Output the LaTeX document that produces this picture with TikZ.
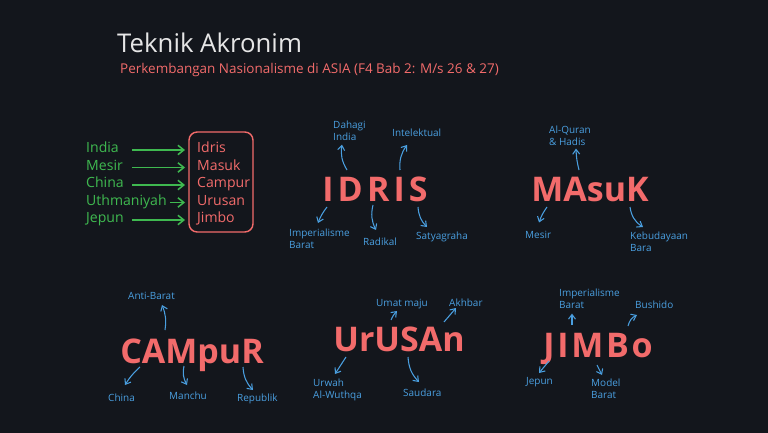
\documentclass[tikz,border=0pt]{standalone}
\usepackage{fontspec}
\setmainfont{Open Sans}
\newfontfamily\acrofont{Open Sans}
\usepackage{tikz}
\usetikzlibrary{arrows.meta}
\definecolor{bgdark}{HTML}{13161C}
\definecolor{titlegray}{HTML}{E6E6E6}
\definecolor{acrored}{HTML}{F26B6B}
\definecolor{noteblue}{HTML}{4A9FE0}
\definecolor{countrygreen}{HTML}{3FB950}

\begin{document}
\begin{tikzpicture}[x=0.03cm, y=-0.03cm,
	title/.style={font={\fontsize{22}{26}\selectfont}, text=titlegray, inner sep=0, anchor=base west},
	subtitle/.style={font={\fontsize{11.5}{14}\selectfont}, text=acrored, inner sep=0, anchor=base west},
	item/.style={font={\fontsize{12}{14}\selectfont}, text=acrored, inner sep=0, anchor=base west},
	country/.style={font={\fontsize{12}{14}\selectfont}, text=countrygreen, inner sep=0, anchor=base west},
	acro/.style={font={\acrofont\bfseries\fontsize{29}{34}\selectfont}, text=acrored, inner sep=0, anchor=base},
	note/.style={font={\fontsize{8.5}{9.8}\selectfont}, text=noteblue, inner sep=0, align=left},
	garr/.style={draw=countrygreen, line width=1.3pt, -{Straight Barb[length=5pt,width=8pt]}},
	barr/.style={draw=noteblue, line width=0.9pt, -{Straight Barb[length=4pt,width=6pt]}}
]
\fill[bgdark] (0,0) rectangle (768,433);
\useasboundingbox (0,0) rectangle (768,433);

\node[title] (title) at (117,53) {Teknik Akronim};
\node[subtitle] (subtitle) at (120,74) {Perkembangan Nasionalisme di ASIA (F4 Bab 2: M/s 26 \& 27)};

\node[draw=acrored, line width=1.2pt, rounded corners=7pt, minimum width=1.92cm, minimum height=3cm] (box) at (221,182) {};
\node[item] (itemidris)  at (197,153) {Idris};
\node[item] (itemmasuk)  at (197,170.5) {Masuk};
\node[item] (itemcampur) at (197,188) {Campur};
\node[item] (itemurusan) at (197,205.5) {Urusan};
\node[item] (itemjimbo)  at (197,223) {Jimbo};

\node[country] (india)      at (86,153) {India};
\node[country] (mesir)      at (86,170.5) {Mesir};
\node[country] (china)      at (86,188) {China};
\node[country] (uthmaniyah) at (86,205.5) {Uthmaniyah};
\node[country] (jepun)      at (86,223) {Jepun};
\draw[garr] ([shift={(46,-3)}]india.base west) -- ([shift={(-12,-3)}]itemidris.base west);
\draw[garr] ([shift={(46,-3)}]mesir.base west) -- ([shift={(-12,-3)}]itemmasuk.base west);
\draw[garr] ([shift={(46,-3)}]china.base west) -- ([shift={(-12,-3)}]itemcampur.base west);
\draw[garr] ([shift={(3,-3)}]uthmaniyah.base east) -- ([shift={(-12,-3)}]itemurusan.base west);
\draw[garr] ([shift={(46,-3)}]jepun.base west) -- ([shift={(-12,-3)}]itemjimbo.base west);

\node[acro] (idris) at (375,202) {\addfontfeature{LetterSpace=12}IDRIS};
\node[note, anchor=north west] (dahagi) at (333,121) {Dahagi\\India};
\node[note, anchor=base west] (intelektual) at (392,137) {Intelektual};
\node[note, anchor=north west] (imperialisme) at (289,229) {Imperialisme\\Barat};
\node[note, anchor=base west] (radikal) at (363,246) {Radikal};
\node[note, anchor=base west] (satyagraha) at (416,240) {Satyagraha};
\draw[barr] ([shift={(-28,-32)}]idris.base) to[bend left=20] ([shift={(9,4)}]dahagi.south west);
\draw[barr] ([shift={(25,-32)}]idris.base) to[bend left=20] ([shift={(15,8)}]intelektual.base west);
\draw[barr] ([shift={(-48,5)}]idris.base) to[bend right=8] ([shift={(29,-6)}]imperialisme.north west);
\draw[barr] ([shift={(-2,3)}]idris.base) to[bend right=20] ([shift={(13,-16)}]radikal.base west);
\draw[barr] ([shift={(43,5)}]idris.base) to[bend right=20] ([shift={(11,-13)}]satyagraha.base west);

\node[acro] (masuk) at (590,202) {MAsuK};
\node[note, anchor=north west] (alquran) at (549,126) {Al-Quran\\\& Hadis};
\node[note, anchor=base west] (mesirnote) at (525,238.5) {Mesir};
\node[note, anchor=north west] (kebudayaan) at (630,232) {Kebudayaan\\Bara};
\draw[barr] ([shift={(-11,-32)}]masuk.base) to[bend left=6] ([shift={(27,3)}]alquran.south west);
\draw[barr] ([shift={(-43,5)}]masuk.base) to[bend right=8] ([shift={(14,-16)}]mesirnote.base west);
\draw[barr] ([shift={(40,5)}]masuk.base) to[bend right=25] ([shift={(13,-5)}]kebudayaan.north west);

\node[acro] (campur) at (192,363) {CAMpuR};
\node[note, anchor=base west] (antibarat) at (128,299.5) {Anti-Barat};
\node[note, anchor=base west] (chinanote) at (108,401) {China};
\node[note, anchor=base west] (manchu) at (169,399) {Manchu};
\node[note, anchor=base west] (republik) at (237,401) {Republik};
\draw[barr] ([shift={(-27,-33)}]campur.base) to[bend right=15] ([shift={(34,5.5)}]antibarat.base west);
\draw[barr] ([shift={(-52,4)}]campur.base) to[bend right=8] ([shift={(17,-16)}]chinanote.base west);
\draw[barr] ([shift={(-8,3)}]campur.base) to[bend right=20] ([shift={(18,-14)}]manchu.base west);
\draw[barr] ([shift={(51,4)}]campur.base) to[bend right=20] ([shift={(16,-11)}]republik.base west);

\node[acro] (urusan) at (399,351) {UrUSAn};
\node[note, anchor=base west] (umatmaju) at (376,306) {Umat maju};
\node[note, anchor=base west] (akhbar) at (449,306) {Akhbar};
\node[note, anchor=north west] (urwah) at (313,379) {Urwah\\Al-Wuthqa};
\node[note, anchor=base west] (saudara) at (403,396) {Saudara};
\draw[barr] ([shift={(-8,-31)}]urusan.base) to[bend left=10] ([shift={(21,5)}]umatmaju.base west);
\draw[barr] ([shift={(45,-29)}]urusan.base) -- ([shift={(7,2)}]akhbar.base west);
\draw[barr] ([shift={(-53,6)}]urusan.base) -- ([shift={(22,-5)}]urwah.north west);
\draw[barr] ([shift={(9,6)}]urusan.base) to[bend right=20] ([shift={(16,-14)}]saudara.base west);

\node[acro] (jimbo) at (598,357) {\addfontfeature{LetterSpace=8}JIMBo};
\node[note, anchor=north west] (imperialismejb) at (559,289) {Imperialisme\\Barat};
\node[note, anchor=base west] (bushido) at (635,308.5) {Bushido};
\node[note, anchor=base west] (jepunnote) at (526,384) {Jepun};
\node[note, anchor=north west] (modelbarat) at (591,379) {Model\\Barat};
\draw[barr] ([shift={(-26,-32)}]jimbo.base) -- ([shift={(13,5)}]imperialismejb.south west);
\draw[barr] ([shift={(30,-31)}]jimbo.base) to[bend left=25] ([shift={(2,6.5)}]bushido.base west);
\draw[barr] ([shift={(-49,4)}]jimbo.base) -- ([shift={(13,-11)}]jepunnote.base west);
\draw[barr] ([shift={(-1,8)}]jimbo.base) -- ([shift={(11,-4)}]modelbarat.north west);
\end{tikzpicture}
\end{document}
